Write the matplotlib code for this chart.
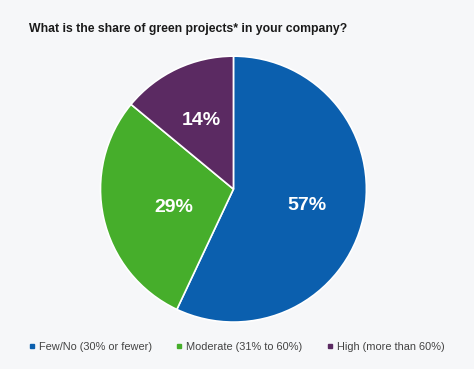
import matplotlib
matplotlib.use("Agg")
import matplotlib.pyplot as plt
from matplotlib.lines import Line2D
import numpy as np

labels = ["Few/No (30% or fewer)", "Moderate (31% to 60%)", "High (more than 60%)"]
shares = [57, 29, 14]
colors = ["#0b5fae", "#46ae2b", "#5b2a62"]

plt.rcParams['font.family'] = ['Liberation Sans', 'DejaVu Sans']

bg = "#f6f7f9"
fig = plt.figure(figsize=(4.74, 3.69), dpi=100, facecolor=bg)
ax = fig.add_axes([0.212, 0.127, 0.561, 0.721])
ax.set_facecolor(bg)

wedges, texts, autotexts = ax.pie(
    shares, colors=colors, startangle=90, counterclock=False,
    autopct=lambda p: "%d%%" % round(p), pctdistance=0.57,
    wedgeprops=dict(edgecolor="white", linewidth=1.2),
    textprops=dict(color="white", fontsize=14, fontweight="bold"))
# the middle label sits a bit closer to the centre
w = wedges[1]
mid = np.deg2rad((w.theta1 + w.theta2) / 2)
autotexts[1].set_position((0.46 * np.cos(mid), 0.46 * np.sin(mid) - 0.04))
ax.set_xlim(-1, 1)
ax.set_ylim(-1, 1)
ax.set_aspect("equal")

fig.text(0.061, 1 - 29 / 369, "What is the share of green projects* in your company?",
         fontsize=8.8, fontweight="bold", color="#1a1a1a", va="center", ha="left")

handles = [Line2D([], [], ls="none", marker="s", markersize=2.7, color=c) for c in colors]
fig.legend(handles, labels, ncol=3, frameon=False, loc="center",
           bbox_to_anchor=(0.5, 1 - 347 / 369), fontsize=7.9,
           handlelength=0.5, handletextpad=0.4,
           columnspacing=2.2, labelcolor="#444444")

fig.savefig("out.png", dpi=100, facecolor=bg)
